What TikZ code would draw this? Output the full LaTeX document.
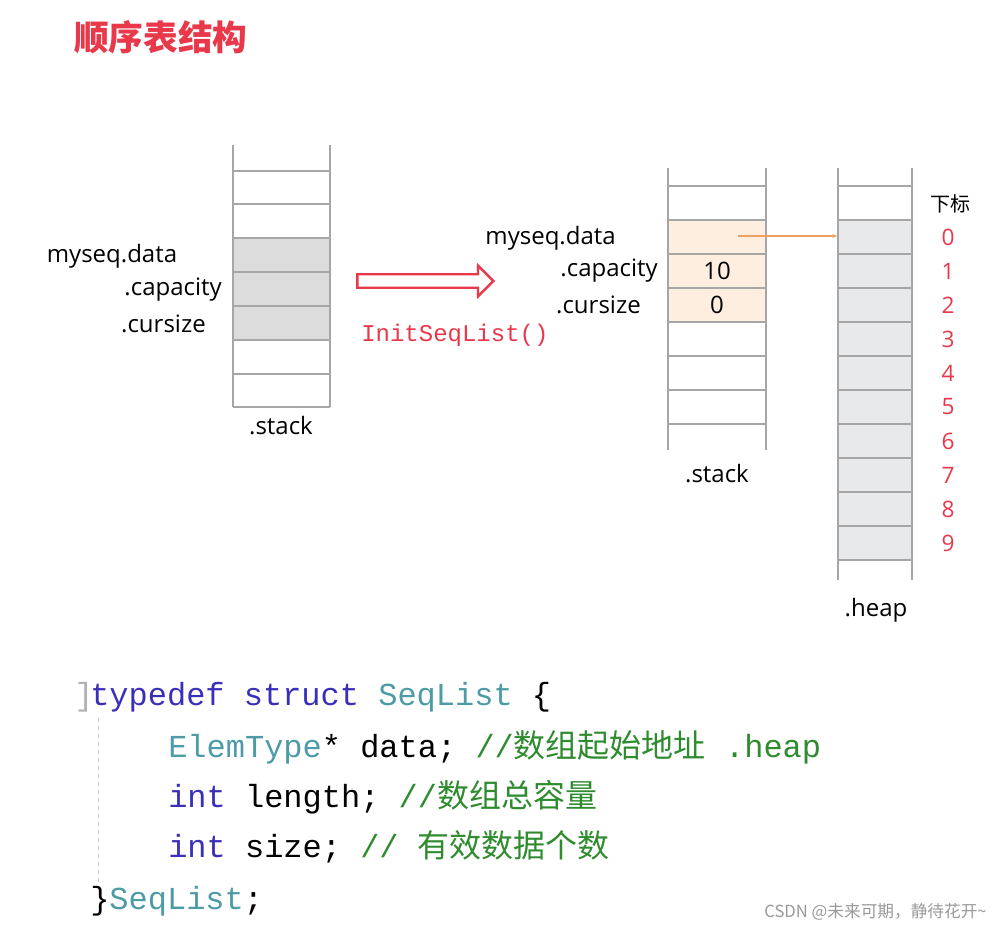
\documentclass[tikz,border=0pt]{standalone}
\usepackage{fontspec}
\setmainfont{Open Sans}
\newfontfamily\cjk{Noto Sans CJK SC}
\newfontfamily\codef{Liberation Mono}
\usetikzlibrary{shapes.arrows,arrows.meta}
\definecolor{hred}{HTML}{E8384A}
\definecolor{kw}{HTML}{3A2FB8}
\definecolor{ty}{HTML}{4C9BA6}
\definecolor{cm}{HTML}{2E8B2E}
\definecolor{cellgray}{HTML}{DCDCDC}
\definecolor{heapgray}{HTML}{E8E9EB}
\definecolor{orcell}{HTML}{FDEEDF}
\definecolor{orline}{HTML}{F0A060}
\tikzset{
 lab/.style={font=\fontsize{18}{20}\selectfont, inner sep=0pt},
 idx/.style={font=\fontsize{17}{19}\selectfont, text=hred, inner sep=0pt},
 code/.style={font=\codef\fontsize{24}{26}\selectfont, anchor=base west, inner sep=0pt},
 grid/.style={draw=gray!70, line width=0.8pt}
}
\begin{document}
\begin{tikzpicture}[x=0.75pt,y=-0.75pt]
\useasboundingbox (0,0) rectangle (1000,931);
% title
\node[font=\cjk\bfseries\fontsize{26}{28}\selectfont, text=hred, anchor=west, inner sep=0pt] (title) at (74,37) {顺序表结构};
% left stack
\fill[cellgray] (233,238) rectangle (330,340);
\foreach \y in {171,204,238,272,306,340,374,407} \draw[grid] (233,\y) -- (330,\y);
\draw[grid] (233,145) -- (233,407); \draw[grid] (330,145) -- (330,407);
\node[lab] (l1) at (112,256) {myseq.data};
\node[lab, anchor=east] (l2) at (222,290) {.capacity};
\node[lab, anchor=east] (l3) at (206,324) {.cursize};
\node[lab] (ls) at (281,426) {.stack};
% hollow arrow
\node[single arrow, draw=hred, line width=1.8pt, fill=white, minimum height=102pt, minimum width=23pt, single arrow head extend=5pt, inner sep=3pt] (arr) at (422,281) {};
\node[font=\codef\fontsize{18}{20}\selectfont, text=hred, anchor=west, inner sep=0pt] (init) at (361,335) {InitSeqList()};
% middle stack
\fill[orcell] (668,220) rectangle (766,322);
\foreach \y in {186,220,254,288,322,356,390,424} \draw[grid] (668,\y) -- (766,\y);
\draw[grid] (668,168) -- (668,450); \draw[grid] (766,168) -- (766,450);
\node[lab, anchor=east] (m1) at (616,238) {myseq.data};
\node[lab, anchor=east] (m2) at (658,271) {.capacity};
\node[lab, anchor=east] (m3) at (641,305) {.cursize};
\node[lab] (v1) at (717,271) {10};
\node[lab] (v2) at (717,305) {0};
\node[lab] (ms) at (717,474) {.stack};
% heap
\fill[heapgray] (838,220) rectangle (912,560);
\foreach \y in {186,220,254,288,322,356,390,424,458,492,526,560} \draw[grid] (838,\y) -- (912,\y);
\draw[grid] (838,168) -- (838,580); \draw[grid] (912,168) -- (912,580);
\node[font=\cjk\fontsize{15}{17}\selectfont, inner sep=0pt] (xb) at (950,204) {下标};
\foreach \i in {0,...,9} \node[idx] (i\i) at (948,{237+34*\i}) {\i};
\node[lab] (hp) at (876,610) {.heap};
\coordinate (ps) at (738,236);
\coordinate (pe) at (838,236);
\draw[orline, line width=0.8pt, -{Latex[length=4pt,width=3pt]}] (ps) -- (pe);
% code
\node[code, text=gray!60] (c0) at (74,705) {]};
\node[code] (c1) at (90,705) {\textcolor{kw}{typedef struct }\textcolor{ty}{SeqList}\textcolor{black}{\ \{}};
\node[code] (c2) at (168,757) {\textcolor{ty}{ElemType}*\ data; \textcolor{cm}{//{\cjk 数组起始地址} .heap}};
\node[code] (c3) at (168,807) {\textcolor{kw}{int} length; \textcolor{cm}{//{\cjk 数组总容量}}};
\node[code] (c4) at (168,857) {\textcolor{kw}{int} size; \textcolor{cm}{// {\cjk 有效数据个数}}};
\node[code] (c5) at (90,909) {\}\textcolor{ty}{SeqList};};
\draw[gray!40, dashed, line width=0.6pt] (98,718) -- (98,885);
% watermark
\node[font=\cjk\fontsize{12.5}{14}\selectfont, text=gray!80, anchor=east, inner sep=0pt] (wm) at (987,912) {CSDN @未来可期，静待花开\textasciitilde};
\end{tikzpicture}
\end{document}
